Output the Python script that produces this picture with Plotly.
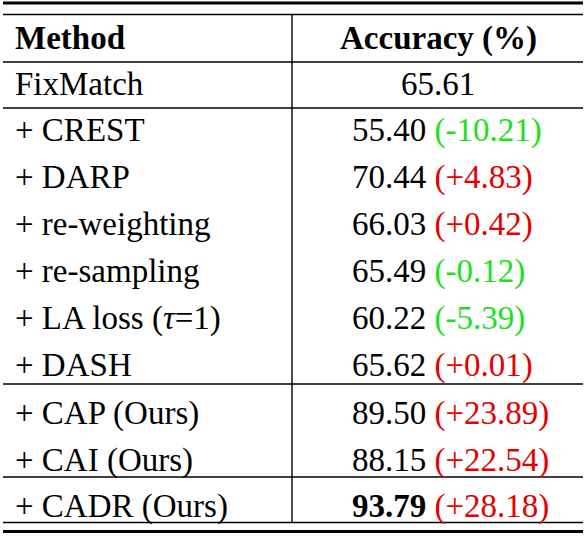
import plotly.graph_objects as go

# table content
methods = ["FixMatch", "+ CREST", "+ DARP", "+ re-weighting", "+ re-sampling",
           "+ LA loss (<i>τ</i>=1)", "+ DASH", "+ CAP (Ours)", "+ CAI (Ours)",
           "+ CADR (Ours)"]
accuracy = [65.61, 55.40, 70.44, 66.03, 65.49, 60.22, 65.62, 89.50, 88.15, 93.79]
deltas = [None, -10.21, 4.83, 0.42, -0.12, -5.39, 0.01, 23.89, 22.54, 28.18]
best_row = 9
header = ["Method", "Accuracy (%)"]

W, H = 585, 537
FONT = "Liberation Serif, Times New Roman, serif"
SIZE = 33
RED = "#e30000"
GREEN = "#1ee01e"

# vertical layout of the rows (pixels from top)
header_y = 38
row_y = [84, 130, 177, 224, 271, 318, 365, 413, 460, 506]
left_x = 13
col2_center = 438
num_x = 350

fig = go.Figure()
# invisible trace so the axes exist
fig.add_trace(go.Scatter(x=[0, W], y=[0, H], mode="markers",
                         marker=dict(opacity=0), hoverinfo="skip", showlegend=False))

annotations = []
annotations.append(dict(x=left_x, y=header_y, text="<b>" + header[0] + "</b>",
                        xanchor="left"))
annotations.append(dict(x=col2_center, y=header_y, text="<b>" + header[1] + "</b>",
                        xanchor="center"))

for i, (m, a, d) in enumerate(zip(methods, accuracy, deltas)):
    annotations.append(dict(x=left_x, y=row_y[i], text=m, xanchor="left"))
    val = f"{a:.2f}"
    if i == best_row:
        val = "<b>" + val + "</b>"
    if d is None:
        annotations.append(dict(x=col2_center, y=row_y[i], text=val, xanchor="center"))
    else:
        col = RED if d >= 0 else GREEN
        txt = f"{val} <span style='color:{col}'>({d:+.2f})</span>"
        annotations.append(dict(x=num_x, y=row_y[i], text=txt, xanchor="left"))

for an in annotations:
    an.update(xref="x", yref="y", yanchor="middle", showarrow=False,
              font=dict(family=FONT, size=SIZE, color="black"))

# rules of the table
shapes = []
def hline(y, w):
    shapes.append(dict(type="line", xref="x", yref="y", x0=3, x1=583, y0=y, y1=y,
                       line=dict(color="black", width=w)))

hline(3, 3)
hline(14.5, 1.4)
hline(62, 1.4)
hline(108, 1.4)
hline(384, 1.4)
hline(477, 1.4)
hline(522.5, 1.4)
hline(531.5, 3)
shapes.append(dict(type="line", xref="x", yref="y", x0=292, x1=292, y0=14.5, y1=522.5,
                   line=dict(color="black", width=1.4)))

fig.update_layout(
    width=W, height=H,
    margin=dict(l=0, r=0, t=0, b=0),
    paper_bgcolor="white", plot_bgcolor="white",
    xaxis=dict(range=[0, W], visible=False, fixedrange=True),
    yaxis=dict(range=[H, 0], visible=False, fixedrange=True),
    annotations=annotations, shapes=shapes,
    showlegend=False,
)

# drop the default page margin so the figure fills the window
fig.write_html("out.html", config={"displayModeBar": False},
               post_script="document.body.style.margin='0';"
                           "document.body.style.overflow='hidden';")
